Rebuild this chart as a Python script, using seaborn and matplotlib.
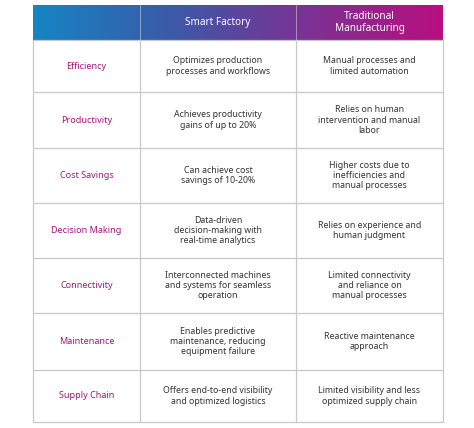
import numpy as np
import matplotlib
matplotlib.use("Agg")
import matplotlib.pyplot as plt
import seaborn as sns
from matplotlib.colors import LinearSegmentedColormap

sns.set_style("white")
plt.rcParams['font.family'] = ['Noto Sans', 'DejaVu Sans']

headers = ["", "Smart Factory", "Traditional\nManufacturing"]
aspects = ["Efficiency", "Productivity", "Cost Savings", "Decision Making",
           "Connectivity", "Maintenance", "Supply Chain"]
smart = ["Optimizes production\nprocesses and workflows",
         "Achieves productivity\ngains of up to 20%",
         "Can achieve cost\nsavings of 10-20%",
         "Data-driven\ndecision-making with\nreal-time analytics",
         "Interconnected machines\nand systems for seamless\noperation",
         "Enables predictive\nmaintenance, reducing\nequipment failure",
         "Offers end-to-end visibility\nand optimized logistics"]
traditional = ["Manual processes and\nlimited automation",
               "Relies on human\nintervention and manual\nlabor",
               "Higher costs due to\ninefficiencies and\nmanual processes",
               "Relies on experience and\nhuman judgment",
               "Limited connectivity\nand reliance on\nmanual processes",
               "Reactive maintenance\napproach",
               "Limited visibility and less\noptimized supply chain"]

col_x = [33, 140, 296, 443]
row_y = [5, 40, 92, 148, 203, 258, 313, 370, 422]

fig = plt.figure(figsize=(4.74, 4.28), dpi=100)
ax = fig.add_axes([0, 0, 1, 1])
ax.set_xlim(0, 474)
ax.set_ylim(428, 0)
ax.axis("off")

# header gradient
cmap = LinearSegmentedColormap.from_list("hdr", ["#1585c4", "#3b5aa8", "#7a3294", "#b80f80"])
grad = np.linspace(0, 1, 256).reshape(1, -1)
ax.imshow(grad, cmap=cmap, aspect="auto",
          extent=[col_x[0], col_x[-1], row_y[1], row_y[0]], zorder=0)

line_kw = dict(color="#c8c8c8", lw=0.9, zorder=2)
for y in row_y[1:]:
    ax.plot([col_x[0], col_x[-1]], [y, y], **line_kw)
for x in col_x:
    ax.plot([x, x], [row_y[1], row_y[-1]], **line_kw)
for x in col_x[1:-1]:
    ax.plot([x, x], [row_y[0], row_y[1]], color="#ffffff", lw=0.6, alpha=0.5, zorder=2)

for j, h in enumerate(headers):
    cx = (col_x[j] + col_x[j + 1]) / 2
    ax.text(cx, (row_y[0] + row_y[1]) / 2, h, color="white", fontsize=7.2,
            fontweight="bold", ha="center", va="center", linespacing=1.1)

for i, (a, s, t) in enumerate(zip(aspects, smart, traditional)):
    cy = (row_y[i + 1] + row_y[i + 2]) / 2
    ax.text((col_x[0] + col_x[1]) / 2, cy, a, color="#a3177e", fontsize=6.5,
            fontweight="bold", ha="center", va="center")
    for j, txt in ((1, s), (2, t)):
        ax.text((col_x[j] + col_x[j + 1]) / 2, cy, txt, color="#333333",
                fontsize=6.3, ha="center", va="center", linespacing=1.15)

fig.savefig("out.png", dpi=100, facecolor="white")
